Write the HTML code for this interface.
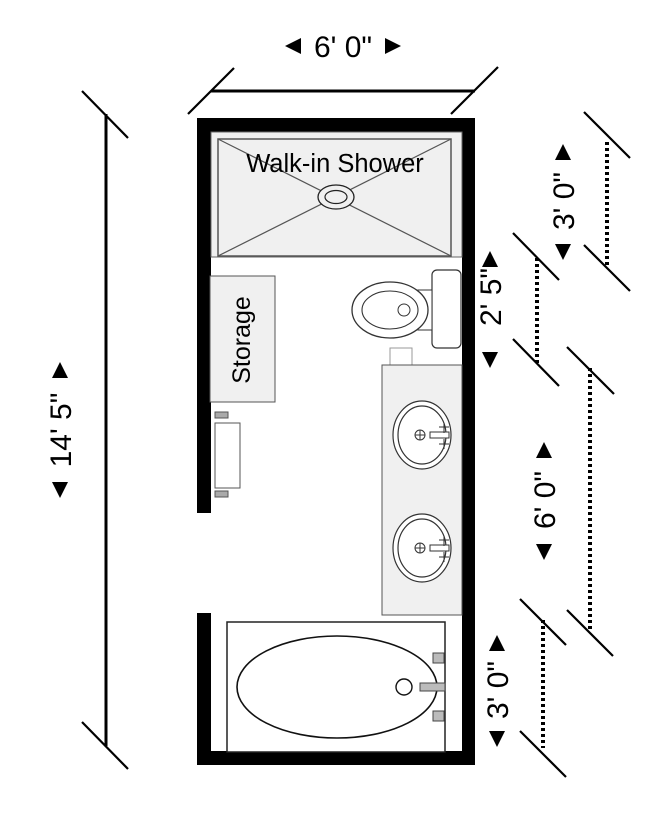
<!DOCTYPE html>
<html><head><meta charset="utf-8"><style>html,body{margin:0;padding:0;background:#fff}svg{display:block}</style></head>
<body>
<svg width="660" height="819" viewBox="0 0 660 819" xmlns="http://www.w3.org/2000/svg" font-family="Liberation Sans, sans-serif">
<rect x="197" y="118" width="278" height="647" fill="#000"/>
<rect x="211" y="132" width="251" height="619" fill="#fff"/>
<rect x="196" y="513" width="16" height="100" fill="#fff"/>
<rect x="211" y="132" width="251" height="125" fill="#f0f0f0" stroke="#666" stroke-width="1"/>
<rect x="218" y="139" width="233" height="117" fill="#f0f0f0" stroke="#555" stroke-width="1.5"/>
<line x1="218" y1="139" x2="451" y2="256" stroke="#555" stroke-width="1.2"/>
<line x1="451" y1="139" x2="218" y2="256" stroke="#555" stroke-width="1.2"/>
<ellipse cx="336" cy="197" rx="18" ry="12" fill="#f0f0f0" stroke="#222" stroke-width="1.3"/>
<ellipse cx="336" cy="197" rx="11" ry="6.5" fill="#f0f0f0" stroke="#222" stroke-width="1.2"/>
<text x="335" y="172" font-size="25.5" text-anchor="middle" fill="#000">Walk-in Shower</text>
<rect x="210" y="276" width="65" height="126" fill="#f0f0f0" stroke="#555" stroke-width="1"/>
<text transform="translate(250,340) rotate(-90)" font-size="25" text-anchor="middle" fill="#000">Storage</text>
<rect x="215" y="412" width="13" height="6" fill="#aaa" stroke="#555"/>
<rect x="215" y="491" width="13" height="6" fill="#aaa" stroke="#555"/>
<rect x="215" y="423" width="25" height="65" fill="#fff" stroke="#555"/>
<rect x="432" y="270" width="29" height="78" rx="5" fill="#fff" stroke="#333" stroke-width="1.2"/>
<rect x="418" y="290" width="14" height="40" fill="#fff" stroke="#333"/>
<ellipse cx="390" cy="310" rx="38" ry="28" fill="#fff" stroke="#333" stroke-width="1.3"/>
<ellipse cx="390" cy="310" rx="28" ry="19" fill="#fff" stroke="#333" stroke-width="1.1"/>
<circle cx="404" cy="310" r="6" fill="#fff" stroke="#333"/>
<rect x="390" y="348" width="22" height="17" fill="#fff" stroke="#999"/>
<rect x="382" y="365" width="80" height="250" fill="#f0f0f0" stroke="#555" stroke-width="1"/>
<g fill="#fff" stroke="#333" stroke-width="1.2">
<ellipse cx="422" cy="435" rx="29" ry="34"/><ellipse cx="422" cy="435" rx="24" ry="29"/>
<ellipse cx="422" cy="548" rx="29" ry="34"/><ellipse cx="422" cy="548" rx="24" ry="29"/>
</g>
<g stroke="#333" stroke-width="1" fill="#fff">
<circle cx="420" cy="435" r="5"/><line x1="415" y1="435" x2="425" y2="435"/><line x1="420" y1="430" x2="420" y2="440"/>
<rect x="430" y="432" width="19" height="6"/>
<path d="M444 423v10M439 427h10M444 439v10M439 444h10"/>
<circle cx="420" cy="548" r="5"/><line x1="415" y1="548" x2="425" y2="548"/><line x1="420" y1="543" x2="420" y2="553"/>
<rect x="430" y="545" width="19" height="6"/>
<path d="M444 536v10M439 540h10M444 552v10M439 557h10"/>
</g>
<rect x="227" y="622" width="218" height="130" fill="#fff" stroke="#222" stroke-width="1.5"/>
<ellipse cx="337" cy="687" rx="100" ry="51" fill="#fff" stroke="#111" stroke-width="1.6"/>
<circle cx="404" cy="687" r="8" fill="#fff" stroke="#111" stroke-width="1.4"/>
<rect x="420" y="683" width="25" height="8" fill="#bbb" stroke="#444"/>
<rect x="433" y="653" width="11" height="10" fill="#bbb" stroke="#444"/>
<rect x="433" y="711" width="11" height="10" fill="#bbb" stroke="#444"/>
<g stroke="#000" stroke-width="2.2">
<line x1="211" y1="91" x2="475" y2="91" stroke-width="3"/>
<line x1="188" y1="114" x2="234" y2="68"/>
<line x1="451" y1="114" x2="498" y2="67"/>
<line x1="106" y1="114" x2="106" y2="746" stroke-width="3"/>
<line x1="82" y1="91" x2="128" y2="138"/>
<line x1="82" y1="722" x2="128" y2="769"/>
<line x1="584" y1="112" x2="630" y2="158"/>
<line x1="584" y1="245" x2="630" y2="291"/>
<line x1="513" y1="233" x2="559" y2="280"/>
<line x1="513" y1="339" x2="559" y2="386"/>
<line x1="567" y1="347" x2="614" y2="394"/>
<line x1="567" y1="610" x2="613" y2="656"/>
<line x1="520" y1="599" x2="566" y2="645"/>
<line x1="520" y1="731" x2="566" y2="777"/>
</g>
<g stroke="#000" stroke-width="4" stroke-dasharray="3,3">
<line x1="607" y1="142" x2="607" y2="266"/>
<line x1="537" y1="258" x2="537" y2="363"/>
<line x1="590" y1="368" x2="590" y2="630"/>
<line x1="543" y1="620" x2="543" y2="748"/>
</g>
<text x="343" y="57" font-size="30" text-anchor="middle">6' 0"</text>
<polygon points="285,46 301,38 301,54"/><polygon points="401,46 385,38 385,54"/>
<text transform="translate(71,430) rotate(-90)" font-size="30" text-anchor="middle">14' 5"</text>
<polygon points="60,362 52,378 68,378"/><polygon points="60,498 52,482 68,482"/>
<text transform="translate(574,201) rotate(-90)" font-size="30" text-anchor="middle">3' 0"</text>
<polygon points="563,144 555,160 571,160"/><polygon points="563,260 555,244 571,244"/>
<text transform="translate(501,297) rotate(-90)" font-size="30" text-anchor="middle">2' 5"</text>
<polygon points="490,251 482,267 498,267"/><polygon points="490,368 482,352 498,352"/>
<text transform="translate(555,500) rotate(-90)" font-size="30" text-anchor="middle">6' 0"</text>
<polygon points="544,442 536,458 552,458"/><polygon points="544,560 536,544 552,544"/>
<text transform="translate(508,690) rotate(-90)" font-size="30" text-anchor="middle">3' 0"</text>
<polygon points="497,635 489,651 505,651"/><polygon points="497,747 489,731 505,731"/>
</svg>
</body></html>
